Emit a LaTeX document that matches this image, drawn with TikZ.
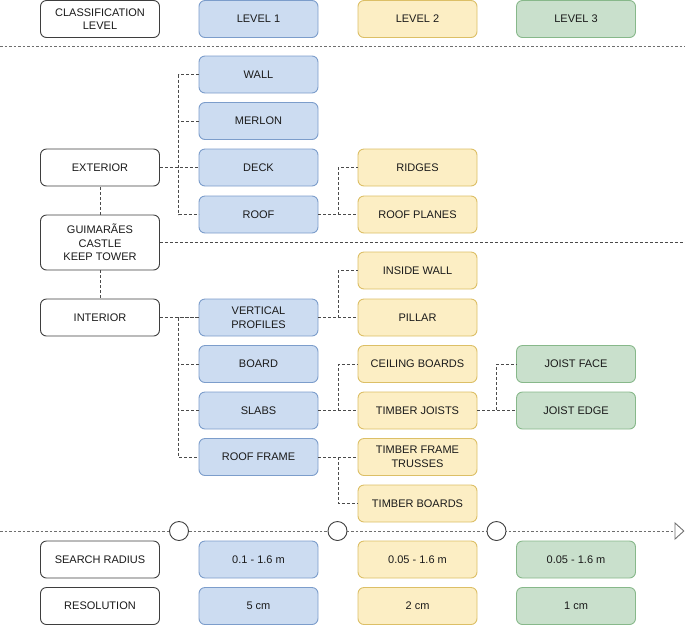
\documentclass[tikz,border=0pt]{standalone}
\usepackage{fontspec}
\setmainfont{Liberation Sans}
\usetikzlibrary{arrows.meta}
\definecolor{bfill}{HTML}{CCDCF1}
\definecolor{bline}{HTML}{7C9DCB}
\definecolor{yfill}{HTML}{FCEEC4}
\definecolor{yline}{HTML}{DCBF66}
\definecolor{gfill}{HTML}{C9E0CC}
\definecolor{gline}{HTML}{87B88A}
\definecolor{wline}{HTML}{3E3E3E}
\definecolor{txt}{HTML}{1A1A1A}
\definecolor{cline}{HTML}{4A4A4A}
\tikzset{
  box/.style={rounded corners=6pt, minimum width=119pt, minimum height=37pt, align=center,
    inner sep=1pt, font=\fontsize{11}{13.5}\selectfont, text=txt, line width=0.9pt},
  wbox/.style={box, draw=wline, fill=white},
  bbox/.style={box, draw=bline, fill=bfill},
  ybox/.style={box, draw=yline, fill=yfill},
  gbox/.style={box, draw=gline, fill=gfill},
  conn/.style={draw=cline, line width=0.8pt, dash pattern=on 3pt off 2pt},
  dotline/.style={draw=cline!80, line width=0.8pt, dash pattern=on 2.5pt off 2pt},
  mile/.style={circle, draw=wline, fill=white, line width=0.9pt, minimum size=19pt, inner sep=0pt}
}
\begin{document}
\begin{tikzpicture}[x=1pt,y=-1pt]
\useasboundingbox (0,0) rectangle (685,625);
% header
\node[wbox] (cl) at (100,19) {CLASSIFICATION\\LEVEL};
\node[bbox] (l1) at (258.5,19) {LEVEL 1};
\node[ybox] (l2) at (417.5,19) {LEVEL 2};
\node[gbox] (l3) at (576,19) {LEVEL 3};
\coordinate (d0) at (0,46);
\coordinate (d1) at (685,46);
\draw[dotline] (d0) -- (d1);
% left column
\node[wbox] (ext) at (100,167.5) {EXTERIOR};
\node[wbox, minimum height=55pt] (gui) at (100,242.5) {GUIMARÃES\\CASTLE\\KEEP TOWER};
\node[wbox] (int) at (100,317.5) {INTERIOR};
% level 1
\node[bbox] (wall) at (258.5,74.5) {WALL};
\node[bbox] (merlon) at (258.5,121) {MERLON};
\node[bbox] (deck) at (258.5,167.5) {DECK};
\node[bbox] (roof) at (258.5,214.5) {ROOF};
\node[bbox] (vp) at (258.5,317.5) {VERTICAL\\PROFILES};
\node[bbox] (board) at (258.5,364) {BOARD};
\node[bbox] (slabs) at (258.5,410.5) {SLABS};
\node[bbox] (rf) at (258.5,457) {ROOF FRAME};
% level 2
\node[ybox] (ridges) at (417.5,167.5) {RIDGES};
\node[ybox] (rplanes) at (417.5,214.5) {ROOF PLANES};
\node[ybox] (iwall) at (417.5,270.5) {INSIDE WALL};
\node[ybox] (pillar) at (417.5,317.5) {PILLAR};
\node[ybox] (ceil) at (417.5,364) {CEILING BOARDS};
\node[ybox] (tj) at (417.5,410.5) {TIMBER JOISTS};
\node[ybox] (tft) at (417.5,457) {TIMBER FRAME\\TRUSSES};
\node[ybox] (tb) at (417.5,503.5) {TIMBER BOARDS};
% level 3
\node[gbox] (jf) at (576,364) {JOIST FACE};
\node[gbox] (je) at (576,410.5) {JOIST EDGE};
% connectors
\draw[conn] (gui) -- (ext);
\draw[conn] (gui) -- (int);
\coordinate (r1) at (685,242.5);
\draw[conn] (gui.east) -- (r1);
\draw[conn] (ext.east) -- (deck.west);
\draw[conn] (wall.west) -- ++(-20,0) |- (roof.west);
\draw[conn] (merlon.west) -- ++(-20,0);
\draw[conn] (roof.east) -- ++(20,0) |- (ridges.west);
\draw[conn] (roof.east) -- (rplanes.west);
\draw[conn] (int.east) -- (vp.west);
\draw[conn] (vp.west) -- ++(-20,0) |- (rf.west);
\draw[conn] (board.west) -- ++(-20,0);
\draw[conn] (slabs.west) -- ++(-20,0);
\draw[conn] (vp.east) -- ++(20,0) |- (iwall.west);
\draw[conn] (vp.east) -- (pillar.west);
\draw[conn] (slabs.east) -- ++(20,0) |- (ceil.west);
\draw[conn] (slabs.east) -- (tj.west);
\draw[conn] (rf.east) -- (tft.west);
\draw[conn] (rf.east) -- ++(20,0) |- (tb.west);
\draw[conn] (tj.east) -- ++(19,0) |- (jf.west);
\draw[conn] (tj.east) -- (je.west);
% timeline
\coordinate (t0) at (0,531);
\coordinate (t1) at (685,531);
\draw[dotline, -{Triangle[open, length=10pt, width=18pt, line width=0.9pt]}, shorten >=0.5pt] (t0) -- (t1);
\node[mile] (m1) at (179,531) {};
\node[mile] (m2) at (337.5,531) {};
\node[mile] (m3) at (496.5,531) {};
% bottom rows
\node[wbox] (sr) at (100,559.5) {SEARCH RADIUS};
\node[bbox] (sr1) at (258.5,559.5) {0.1 - 1.6 m};
\node[ybox] (sr2) at (417.5,559.5) {0.05 - 1.6 m};
\node[gbox] (sr3) at (576,559.5) {0.05 - 1.6 m};
\node[wbox] (res) at (100,606) {RESOLUTION};
\node[bbox] (res1) at (258.5,606) {5 cm};
\node[ybox] (res2) at (417.5,606) {2 cm};
\node[gbox] (res3) at (576,606) {1 cm};
\end{tikzpicture}
\end{document}
